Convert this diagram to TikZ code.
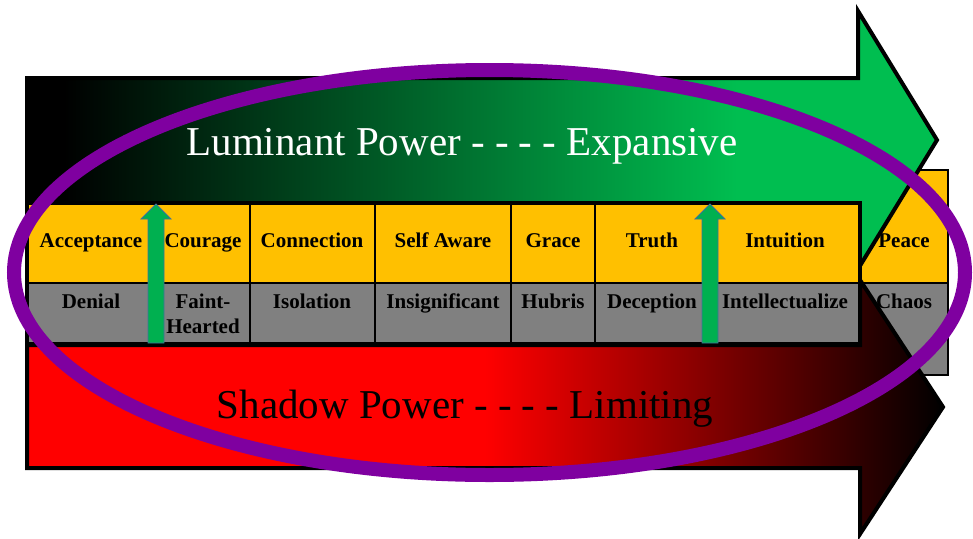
\documentclass[tikz,border=0pt]{standalone}
\usepackage{fontspec}
\setmainfont{Liberation Serif}
\definecolor{lumgreen}{RGB}{0,190,80}
\definecolor{shadred}{RGB}{255,0,0}
\definecolor{cellyel}{RGB}{255,192,0}
\definecolor{cellgray}{RGB}{128,128,128}
\definecolor{ringpurple}{RGB}{127,0,160}
\definecolor{upgreen}{RGB}{0,176,80}
\definecolor{upedge}{RGB}{65,113,156}
\pgfdeclarehorizontalshading{lumshade}{100bp}{color(0bp)=(black); color(27bp)=(black); color(64bp)=(lumgreen); color(100bp)=(lumgreen)}
\pgfdeclarehorizontalshading{shadshade}{100bp}{color(0bp)=(shadred); color(50bp)=(shadred); color(75bp)=(black); color(100bp)=(black)}
\tikzset{
  cell/.style={font=\fontsize{21}{25}\selectfont\bfseries, anchor=base, inner sep=0pt},
  banner/.style={font=\fontsize{41}{48}\selectfont, anchor=base, inner sep=0pt},
}

\begin{document}
\begin{tikzpicture}[x=1pt,y=-1pt]
  \useasboundingbox (0,0) rectangle (973,538);
  \filldraw[fill=cellyel, line width=2pt] (860,170) rectangle (948,283);
  \filldraw[fill=cellgray, line width=2pt] (860,283) rectangle (948,375);
  \shadedraw[shading=lumshade, line width=4pt]
    (27,78) -- (858,78) -- (858,11) -- (937,140) -- (858,269) -- (858,203) -- (27,203) -- cycle;
  \shadedraw[shading=shadshade, line width=4pt]
    (27,345) -- (860,345) -- (860,280) -- (943,407) -- (860,534) -- (860,468) -- (27,468) -- cycle;
  \node[banner, text=white] (lum) at (462,155) {Luminant Power - - - - Expansive};
  \node[banner] (shad) at (465,418) {Shadow Power - - - - Limiting};
  \foreach \xa/\xb in {27/155,155/250,250/375,375/511,511/595,595/710,710/860}
  {
    \filldraw[fill=cellyel, line width=2.5pt] (\xa,203) rectangle (\xb,283);
    \filldraw[fill=cellgray, line width=2.5pt] (\xa,283) rectangle (\xb,344);
  }
  \draw[line width=4pt] (27,203) rectangle (860,344);
  \foreach \nm/\cx/\hi/\lo in {acc/91/Acceptance/Denial, cou/203/Courage/Faint-,
      con/312/Connection/Isolation, sel/443/Self Aware/Insignificant,
      gra/553/Grace/Hubris, tru/652/Truth/Deception,
      int/785/Intuition/Intellectualize, pea/904/Peace/Chaos}
  {
    \node[cell] (hi-\nm) at (\cx,247) {\hi};
    \node[cell] (lo-\nm) at (\cx,308) {\lo};
  }
  \node[cell] (lo-cou2) at (203,333) {Hearted};
  \foreach \ux in {156,710}
    \filldraw[fill=upgreen, draw=upedge, line width=0.8pt]
      (\ux-8,343) -- (\ux-8,219) -- (\ux-15,219) -- (\ux,204) -- (\ux+15,219) -- (\ux+8,219) -- (\ux+8,343) -- cycle;
  \draw[ringpurple, line width=14pt] (489.5,272.5) ellipse [x radius=475.5pt, y radius=202.5pt];
\end{tikzpicture}
\end{document}
